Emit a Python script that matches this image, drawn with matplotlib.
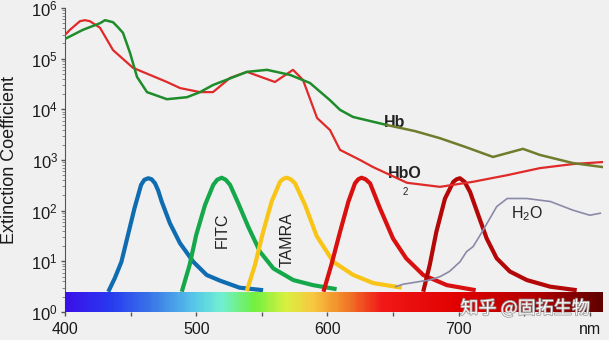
import numpy as np
import matplotlib
matplotlib.use("Agg")
import matplotlib.pyplot as plt
import matplotlib.patheffects as pe
from matplotlib.colors import LinearSegmentedColormap

plt.rcParams['font.family'] = ['Liberation Sans', 'DejaVu Sans']
plt.rcParams['mathtext.fontset'] = 'custom'
plt.rcParams['mathtext.rm'] = 'Liberation Sans'
plt.rcParams['mathtext.bf'] = 'Liberation Sans:bold'
plt.rcParams['mathtext.default'] = 'regular'

# absorption spectra (nm, log10 extinction coefficient)
hb_nm = [400, 413.7, 426.7, 430.5, 436.6, 440.4, 444.2, 449.5, 454.9, 462.5, 477.7,
         493, 502.9, 512.8, 538.7, 554, 571.5, 586.7, 602, 609.6, 619.5, 645.4]
hb_log = [5.39, 5.57, 5.70, 5.76, 5.72, 5.62, 5.51, 5.12, 4.64, 4.34, 4.20,
          4.24, 4.34, 4.48, 4.74, 4.78, 4.68, 4.52, 4.18, 3.99, 3.85, 3.69]
hb2_nm = [645.4, 666.8, 685.8, 704.9, 726.2, 749, 762, 787, 810]
hb2_log = [3.69, 3.57, 3.43, 3.26, 3.06, 3.22, 3.10, 2.94, 2.86]

hbo2_nm = [400, 403.8, 411.4, 415.2, 419, 426.7, 436.6, 451.8, 477.7, 487.7, 502.9,
           512.8, 525.8, 538.7, 560, 573.8, 581.4, 592.1, 602, 609.6, 624.9, 634.8,
           660.7, 685.8, 711, 736.9, 762, 787.2, 810]
hbo2_log = [5.47, 5.57, 5.74, 5.76, 5.74, 5.61, 5.17, 4.82, 4.54, 4.42, 4.34,
            4.34, 4.62, 4.74, 4.54, 4.78, 4.58, 3.83, 3.59, 3.20, 3.00, 2.86,
            2.55, 2.47, 2.57, 2.70, 2.84, 2.92, 2.96]

h2o_nm = [652, 658, 663, 670, 678, 686, 693, 701, 706, 711, 716, 721, 729, 737,
          752, 770, 787, 800, 808]
h2o_log = [0.50, 0.55, 0.57, 0.60, 0.63, 0.70, 0.80, 0.99, 1.19, 1.29, 1.50, 1.72,
           2.08, 2.24, 2.24, 2.18, 2.01, 1.91, 1.95]

# dye spectra
blue_nm = [433, 438, 443, 448, 453, 458, 460.5, 463.5, 466, 468.6, 471, 473.7, 480,
           487.6, 497.8, 508, 518, 533, 551]
blue_log = [0.40, 0.67, 0.99, 1.52, 2.05, 2.51, 2.61, 2.64, 2.62, 2.54, 2.40, 2.18,
            1.75, 1.36, 0.99, 0.73, 0.62, 0.48, 0.43]
fitc_nm = [489, 495, 500, 506.7, 513, 516, 519.4, 522.5, 525.8, 532, 539.7, 548.6,
           558.8, 574, 589, 607]
fitc_log = [0.40, 0.93, 1.52, 2.11, 2.51, 2.61, 2.65, 2.61, 2.51, 2.15, 1.68, 1.19,
            0.86, 0.63, 0.53, 0.45]
tamra_nm = [538.5, 544.8, 551, 557.5, 563.9, 566.5, 569, 572, 575.3, 583, 591.8,
            604.5, 619.7, 635, 656.6]
tamra_log = [0.41, 0.93, 1.58, 2.18, 2.57, 2.63, 2.65, 2.62, 2.54, 2.11, 1.50,
             0.99, 0.73, 0.57, 0.48]
red_nm = [597, 603, 609.6, 616, 621, 623.5, 626, 629, 632.5, 640, 650, 660, 673,
          691, 713]
red_log = [0.40, 0.93, 1.58, 2.18, 2.54, 2.62, 2.65, 2.62, 2.54, 2.05, 1.45, 1.06,
           0.73, 0.53, 0.43]
dred_nm = [673, 678, 683, 689.6, 696, 698.5, 701, 704.5, 708.7, 715, 721.4, 729,
           739, 752, 769.7, 790]
dred_log = [0.40, 0.93, 1.58, 2.24, 2.57, 2.62, 2.64, 2.57, 2.37, 1.91, 1.45, 1.06,
            0.80, 0.63, 0.50, 0.43]

fig = plt.figure(figsize=(6.09, 3.40), dpi=100, facecolor='#f0f0f0')
ax = fig.add_axes([0.1067, 0.0824, 0.8834, 0.894])
ax.set_facecolor('#f0f0f0')
ax.set_yscale('log')
ax.set_xlim(400, 810)
ax.set_ylim(1, 1e6)

def pw(v):
    return 10 ** np.array(v)

# spectrum bar
spec = LinearSegmentedColormap.from_list('spec', [
    (0.00, '#3a10e8'), (0.08, '#2838f0'), (0.16, '#3a78e8'), (0.24, '#58c8e8'),
    (0.29, '#70f0d0'), (0.35, '#70f040'), (0.41, '#d8f040'), (0.46, '#f8c840'),
    (0.52, '#f08028'), (0.59, '#f01818'), (0.73, '#e00000'), (0.88, '#b00000'),
    (1.00, '#600000')])
xb = np.linspace(400, 810, 300)
ax.pcolormesh(xb, [1, 2.5], xb[:-1][None, :], cmap=spec, shading='flat', zorder=3)

ax.plot(hbo2_nm, pw(hbo2_log), color='#e02a2a', lw=1.6, zorder=4)
ax.plot(hb_nm, pw(hb_log), color='#1e8c2a', lw=1.8, zorder=4)
ax.plot(hb2_nm, pw(hb2_log), color='#6e7c2c', lw=1.8, zorder=4)
ax.plot(h2o_nm, pw(h2o_log), color='#8a8aa8', lw=1.2, zorder=4)

for nm, lg, c in [(blue_nm, blue_log, '#0f6cb0'), (fitc_nm, fitc_log, '#14a84a'),
                  (tamra_nm, tamra_log, '#f8c418'), (red_nm, red_log, '#d81010'),
                  (dred_nm, dred_log, '#b40808')]:
    ax.plot(nm, pw(lg), color=c, lw=3, solid_capstyle='butt',
            solid_joinstyle='round', zorder=2)

tk = dict(color='#222222', fontsize=11.5, fontweight='bold')
ax.text(651.5, 10 ** 3.75, 'Hb', ha='center', va='center', **tk)
ax.text(659, 10 ** 2.74, 'HbO', ha='center', va='center', **tk)
ax.text(659, 10 ** 2.36, '2', ha='center', va='center', color='#222222', fontsize=7)
ax.text(752, 10 ** 1.95, 'H$_{2}$O', ha='center', va='center', color='#222222',
        fontsize=11.5)
ax.text(519.7, 10 ** 1.62, 'FITC', ha='center', va='center', rotation=90,
        color='#222222', fontsize=11.5)
ax.text(569, 10 ** 1.42, 'TAMRA', ha='center', va='center', rotation=90,
        color='#222222', fontsize=11.5)

ax.set_xticks([400, 450, 500, 550, 600, 650, 700, 750, 800])
ax.set_xticklabels(['400', '', '500', '', '600', '', '700', '', 'nm'])
ax.set_yticks([10 ** i for i in range(7)])
ax.set_yticklabels(['10$^{%d}$' % i for i in range(7)])
for lab in ax.get_yticklabels():
    lab.set_fontsize(12)
for lab in ax.get_xticklabels():
    lab.set_fontsize(11.5)
ax.tick_params(axis='both', colors='#555555', length=3, width=1, labelcolor='#1a1a1a',
               pad=2)
ax.tick_params(axis='x', pad=4)
ax.tick_params(axis='y', which='minor', length=2, colors='#777777')
for s in ['top', 'right', 'bottom']:
    ax.spines[s].set_visible(False)
ax.spines['left'].set_color('#555555')

fig.text(10 / 609, 0.53, 'Extinction Coefficient', rotation=90, ha='center',
         va='center', fontsize=13, color='#1a1a1a')

fig.text(0.862, 0.093, '知乎 @固拓生物', ha='center', va='center', fontsize=13,
         color='white', alpha=0.9, family=['Noto Sans CJK SC', 'DejaVu Sans'],
         path_effects=[pe.withStroke(linewidth=1.2, foreground='#999999')])

fig.savefig('out.png', dpi=100, facecolor=fig.get_facecolor())
